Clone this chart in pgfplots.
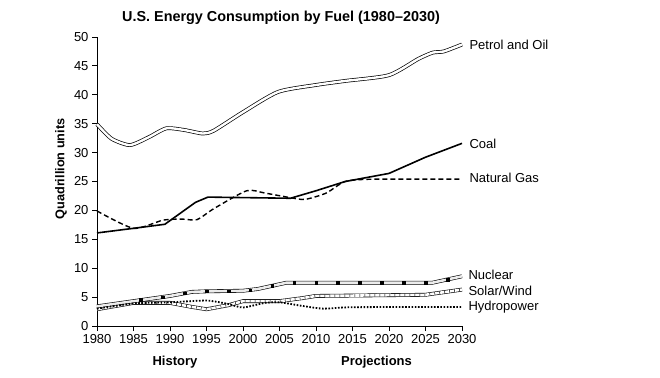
\documentclass[border=0pt]{standalone}
\usepackage{pgfplots}
\pgfplotsset{compat=1.18}
\usepackage{fontspec}
\setmainfont{Liberation Sans}
\begin{document}
\begin{tikzpicture}[x=1pt,y=1pt]
\useasboundingbox (0,0) rectangle (660,377);
\begin{axis}[
  at={(97pt,51pt)}, anchor=south west,
  scale only axis, width=365pt, height=289pt,
  xmin=1980, xmax=2030, ymin=0, ymax=50,
  axis lines*=left,
  axis line style={line width=0.9pt},
  xtick={1980,1985,...,2030}, ytick={0,5,...,50},
  tick align=outside, major tick length=5pt,
  tick style={line width=0.9pt, black},
  /pgf/number format/1000 sep={},
  /pgf/number format/assume math mode=true,
  tick label style={font=\fontsize{13}{15}\selectfont},
  clip=false,
]
% Petrol and Oil
\addplot[black, line width=0.7pt, double=white, double distance=2.4pt, smooth, tension=0.4] coordinates {
(1980,34.9) (1982,32.4) (1984.5,31.3) (1987,32.6) (1989.5,34.2) (1992,33.9) (1994.5,33.3) (1996,33.8) (2000,37.0) (2004.8,40.5) (2010,41.7) (2014,42.4) (2020,43.4) (2024,46.2) (2026,47.3) (2027.5,47.5) (2030,48.7)};
% Coal
\addplot[black, line width=1.6pt] coordinates {
(1980,16.1) (1985,16.9) (1989.3,17.6) (1993.5,21.4) (1995.2,22.3) (2006.5,22.1) (2010,23.4) (2014,25.0) (2020,26.4) (2025,29.2) (2030,31.6)};
% Natural Gas
\addplot[black, line width=1.4pt, dash pattern=on 5pt off 3pt, smooth, tension=0.4] coordinates {
(1980,19.9) (1985,16.9) (1989,18.3) (1991.6,18.5) (1993.7,18.4) (1996,20.3) (2000.5,23.4) (2003,23.0) (2006.5,22.2) (2008.5,21.9) (2011.4,23.0) (2014,25.0) (2017.8,25.4) (2030,25.4)};
% Solar/Wind
\addplot[black, line width=0.6pt, double=white, double distance=2.6pt] coordinates {
(1980,2.9) (1985,4.0) (1990,4.0) (1993,3.3) (1995,2.9) (1998,3.6) (2000,4.3) (2005,4.3) (2008,4.8) (2010,5.2) (2025,5.4) (2030,6.3)};
\addplot[black, line width=2.6pt, dash pattern=on 0.5pt off 4.5pt] coordinates {
(1980,2.9) (1985,4.0) (1990,4.0) (1993,3.3) (1995,2.9) (1998,3.6) (2000,4.3) (2005,4.3) (2008,4.8) (2010,5.2) (2025,5.4) (2030,6.3)};
% Nuclear
\addplot[black, line width=0.6pt, double=gray!15, double distance=2.6pt] coordinates {
(1980,3.4) (1985,4.3) (1990,5.2) (1993,5.9) (1995,6.0) (2000,6.1) (2002,6.4) (2006,7.5) (2026,7.5) (2030,8.6)};
\addplot[only marks, mark=square*, mark size=1.3pt, black] coordinates {
(1986,4.5) (1989,5.0) (1992,5.7) (1995,6.0) (1998,6.05) (2001,6.2) (2004,7.0) (2007,7.5) (2010,7.5) (2013,7.5) (2016,7.5) (2019,7.5) (2022,7.5) (2025,7.5) (2028,8.0)};
% Hydropower
\addplot[black, line width=1.8pt, dash pattern=on 1.6pt off 1.6pt, smooth, tension=0.4] coordinates {
(1980,3.0) (1985,3.9) (1990,4.1) (1995,4.4) (1998,3.8) (2000,3.2) (2003,4.0) (2005,4.1) (2008,3.5) (2011,3.0) (2015,3.25) (2030,3.3)};
\end{axis}
\node[anchor=west, font=\fontsize{13}{15}\selectfont] at (466,332) {Petrol and Oil};
\node[anchor=west, font=\fontsize{13}{15}\selectfont] at (466,233) {Coal};
\node[anchor=west, font=\fontsize{13}{15}\selectfont] at (466,199) {Natural Gas};
\node[anchor=west, font=\fontsize{13}{15}\selectfont] at (465,102) {Nuclear};
\node[anchor=west, font=\fontsize{13}{15}\selectfont] at (465,86) {Solar/Wind};
\node[anchor=west, font=\fontsize{13}{15}\selectfont] at (465,70) {Hydropower};
\node[font=\bfseries\fontsize{14.4}{16}\selectfont] at (281,359) {U.S. Energy Consumption by Fuel (1980--2030)};
\node[font=\bfseries\fontsize{13}{15}\selectfont] at (175,14.5) {History};
\node[font=\bfseries\fontsize{13}{15}\selectfont] at (376.5,14.5) {Projections};
\node[font=\bfseries\fontsize{12.7}{15}\selectfont, rotate=90] at (61,208) {Quadrillion units};
\end{tikzpicture}
\end{document}
